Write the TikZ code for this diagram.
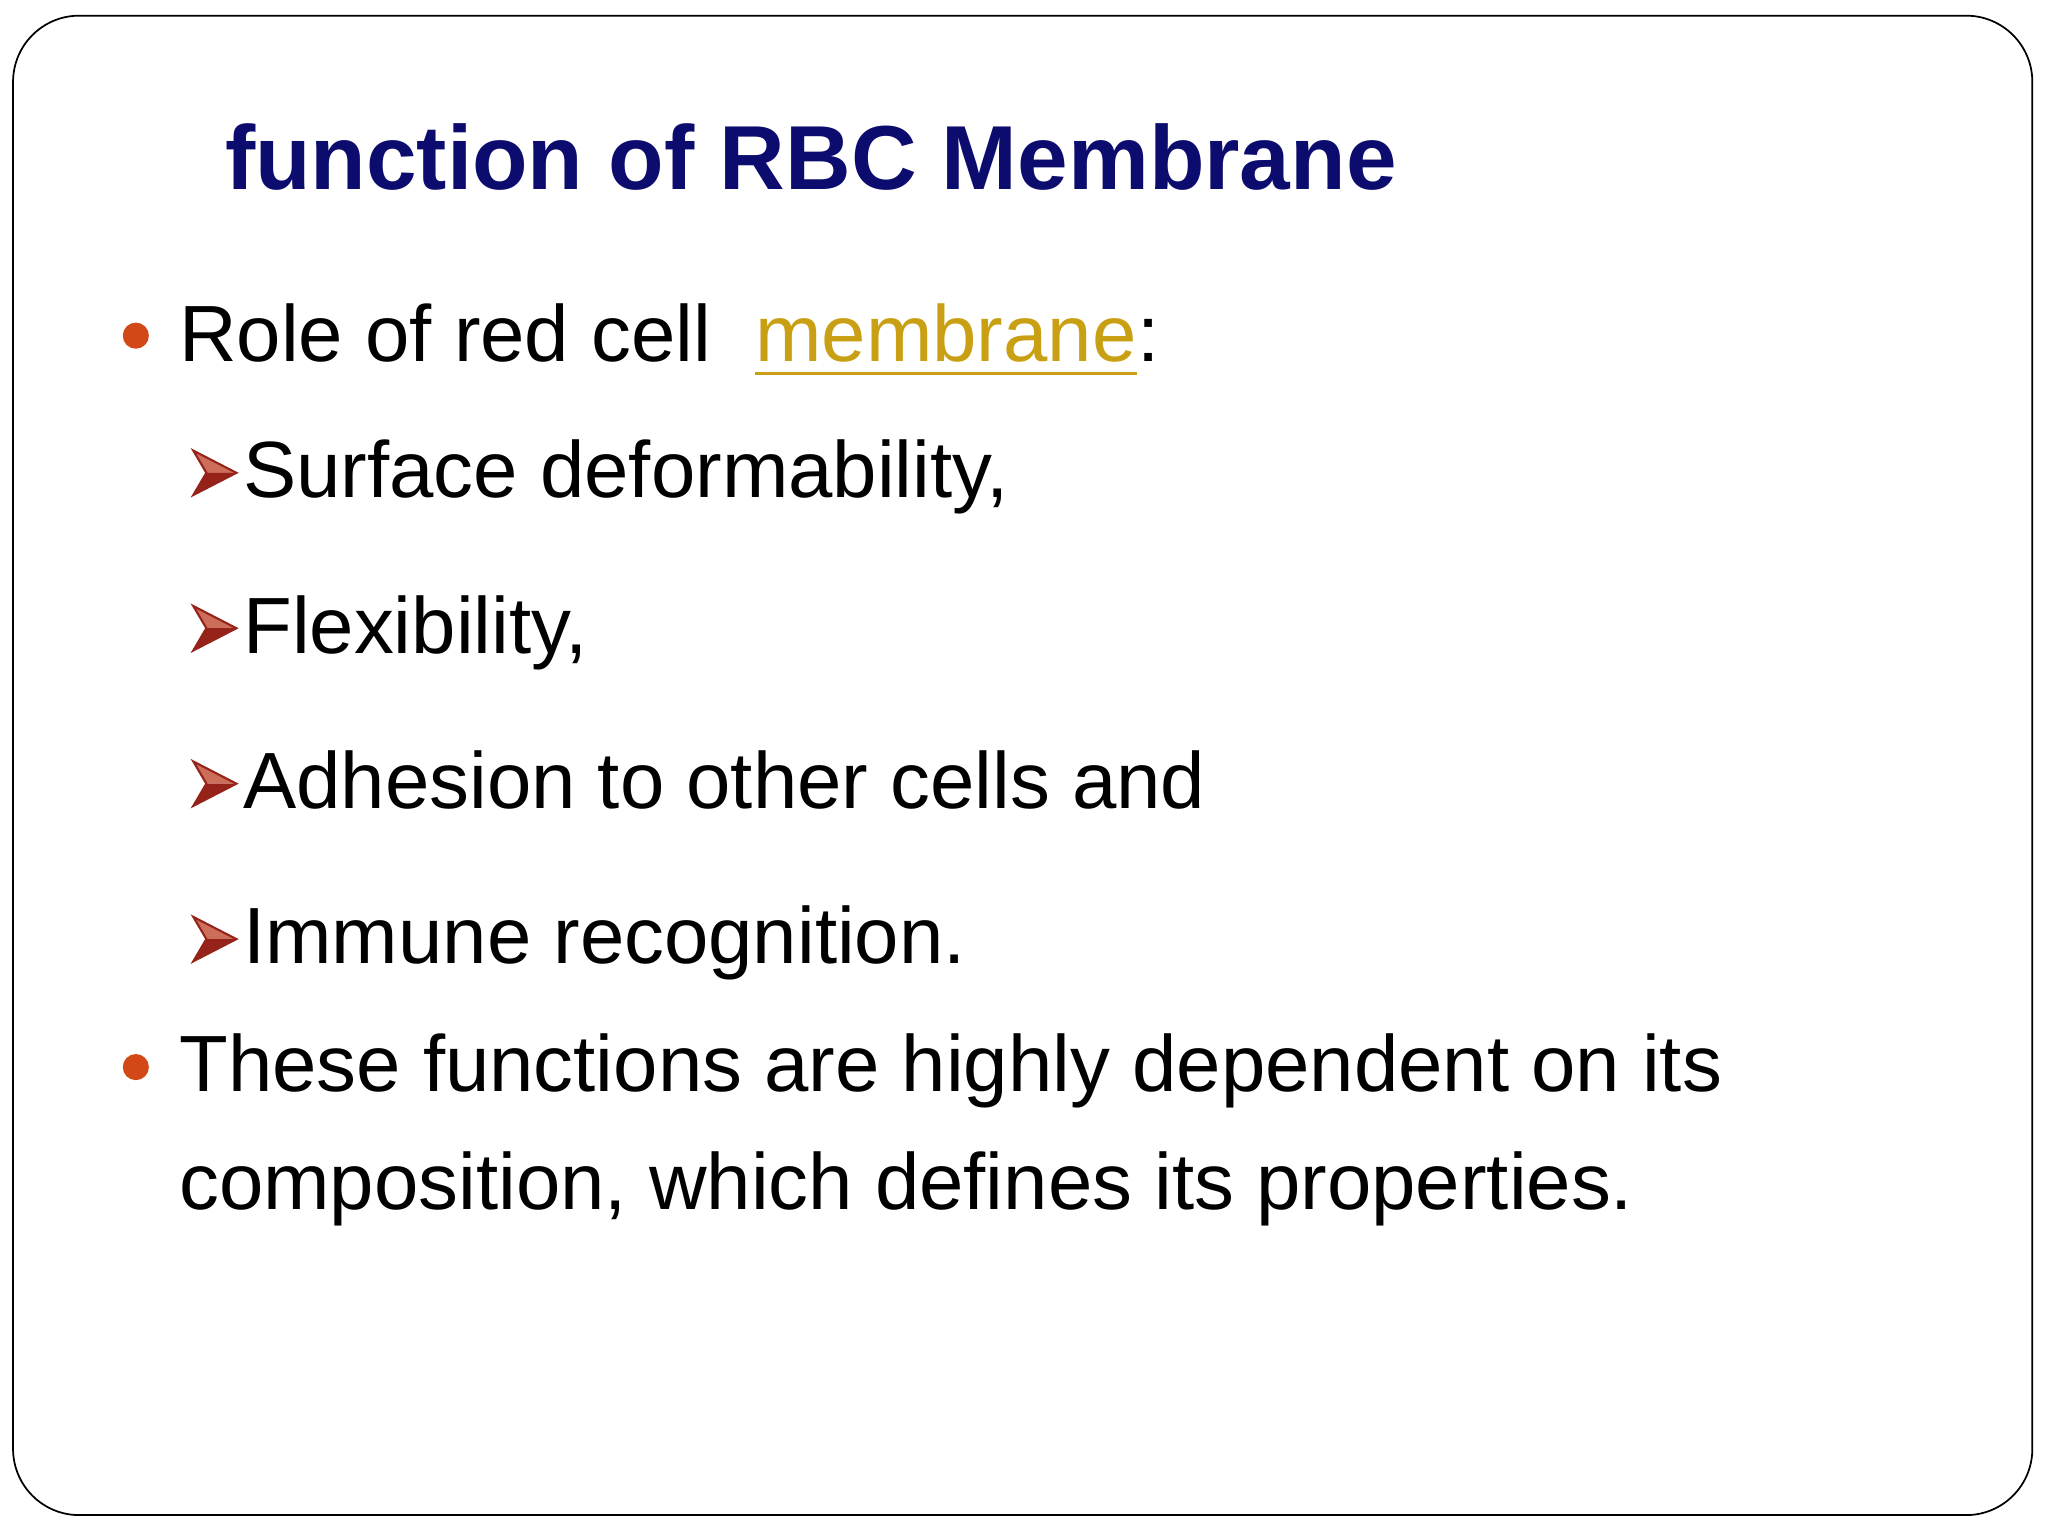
\documentclass[tikz,border=0pt]{standalone}
\usepackage{fontspec}
\setmainfont{Liberation Sans}
\definecolor{navy}{RGB}{12,12,110}
\definecolor{dotc}{RGB}{211,72,23}
\definecolor{gold}{RGB}{201,160,19}
\definecolor{arr}{RGB}{150,35,25}
\definecolor{arrl}{RGB}{205,110,90}
\begin{document}
\begin{tikzpicture}[x=0.75pt,y=-0.75pt,
  body/.style={anchor=base west,inner sep=0pt,font=\fontsize{45.8}{55}\selectfont},
  dotb/.style={fill=dotc,draw=none}]
\useasboundingbox (0,0) rectangle (1568,1176);
\draw[line width=1pt,rounded corners=38pt] (10,12) rectangle (1556,1160);
\node[anchor=base west,inner sep=0pt,text=navy,font=\fontsize{52.2}{60}\selectfont\bfseries] (title) at (172,145) {function of RBC Membrane};
\fill[dotb] (104,257) circle (10);
\node[body] (role) at (137,277) {Role of red cell};
\node[body,text=gold] (mem) at (578,277) {membrane};
\node[body] (colon) at (mem.base east) {:};
\draw[gold,line width=2.2pt] (578,286) -- (mem.base east |- 0,286);
\foreach \y/\t [count=\i] in {381/{Surface deformability,},500/{Flexibility,},619/{Adhesion to other cells and},738/{Immune recognition.}}{
  \fill[arrl] (181,\y-19) -- (148,\y-36) -- (158,\y-19) -- cycle;
  \fill[arr] (181,\y-19) -- (158,\y-19) -- (148,\y-2) -- cycle;
  \draw[arr,line width=1.2pt,line join=miter] (181,\y-19) -- (148,\y-36) -- (158,\y-19) -- (148,\y-2) -- cycle;
  \node[body] (it\i) at (186,\y) {\t};
}
\fill[dotb] (104,817) circle (10);
\node[body] (l1) at (137,836) {These functions are highly dependent on its};
\node[body] (l2) at (137,926) {composition, which defines its properties.};
\end{tikzpicture}
\end{document}
